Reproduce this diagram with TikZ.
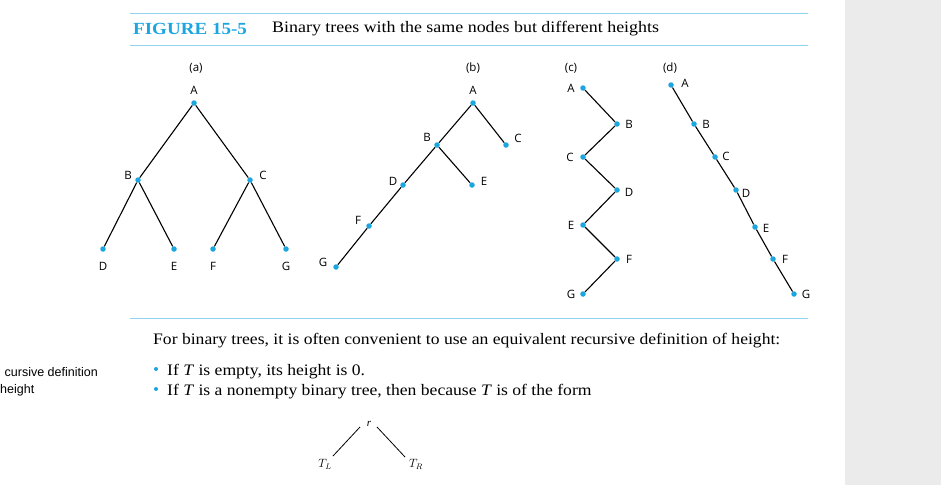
\documentclass[tikz,border=0pt]{standalone}
\usepackage{fontspec}
\setmainfont{Liberation Serif}
\newfontfamily\bodyf[FakeStretch=1.1]{Liberation Serif}
\newfontfamily\capf[FakeStretch=1.12]{Liberation Serif}
\newfontfamily\lab{Open Sans}
\newfontfamily\marg{Liberation Sans}
\definecolor{cyanb}{HTML}{1BA6E0}
\definecolor{rule}{HTML}{8FD3EE}
\definecolor{panel}{HTML}{EBEBEB}
\begin{document}
\begin{tikzpicture}[x=1pt,y=-1pt,
  dot/.style={circle,fill=cyanb,inner sep=0pt,minimum size=5.5pt},
  lbl/.style={font=\lab\fontsize{11.5}{13}\selectfont,inner sep=0pt},
  edge/.style={line width=1.1pt},
  body/.style={font=\bodyf\fontsize{16}{18}\selectfont,inner sep=0pt,anchor=west}]
\useasboundingbox (0,0) rectangle (941,485);
\fill[panel] (845,0) rectangle (941,485);
\draw[rule,line width=1pt] (130,13) -- (808,13);
\draw[rule,line width=1pt] (130,45) -- (808,45);
\draw[rule,line width=1pt] (130,318) -- (808,318);
\node[anchor=west,inner sep=0pt,text=cyanb,font=\capf\bfseries\fontsize{17}{19}\selectfont] (fig) at (133,29) {FIGURE 15-5};
\node[anchor=west,inner sep=0pt,font=\capf\fontsize{16}{18}\selectfont] (cap) at (272,29) {Binary trees with the same nodes but different heights};
% (a)
\node[lbl] (la) at (196,68) {(a)};
\foreach \n/\x/\y in {aA/194/103,aB/138/180,aC/250/180,aD/103/249,aE/174/249,aF/213/249,aG/286/249}
  \node[dot] (\n) at (\x,\y) {};
\draw[edge] (aA)--(aB) (aA)--(aC) (aB)--(aD) (aB)--(aE) (aC)--(aF) (aC)--(aG);
\node[lbl] at (194,90) {A}; \node[lbl] at (128,175) {B}; \node[lbl] at (263,175) {C};
\node[lbl] at (103,266) {D}; \node[lbl] at (174,266) {E}; \node[lbl] at (213,266) {F}; \node[lbl] at (286,266) {G};
% (b)
\node[lbl] (lb) at (473,68) {(b)};
\foreach \n/\x/\y in {bA/473/103,bB/437/145,bC/506/145,bD/403/185,bE/472/185,bF/369/226,bG/336/267}
  \node[dot] (\n) at (\x,\y) {};
\draw[edge] (bA)--(bB) (bA)--(bC) (bB)--(bD) (bB)--(bE) (bD)--(bF) (bF)--(bG);
\node[lbl] at (473,90) {A}; \node[lbl] at (427,137) {B}; \node[lbl] at (518,138) {C};
\node[lbl] at (393,181) {D}; \node[lbl] at (484,181) {E}; \node[lbl] at (358,220) {F}; \node[lbl] at (323,262) {G};
% (c)
\node[lbl] (lc) at (571,68) {(c)};
\foreach \n/\x/\y in {cA/583/88,cB/617/124,cC/583/157,cD/617/190,cE/583/225,cF/617/259,cG/583/294}
  \node[dot] (\n) at (\x,\y) {};
\draw[edge] (cA)--(cB)--(cC)--(cD)--(cE)--(cF)--(cG);
\node[lbl] at (571,88) {A}; \node[lbl] at (629,124) {B}; \node[lbl] at (570,157) {C};
\node[lbl] at (629,192) {D}; \node[lbl] at (571,225) {E}; \node[lbl] at (629,259) {F}; \node[lbl] at (571,294) {G};
% (d)
\node[lbl] (ld) at (670,68) {(d)};
\foreach \n/\x/\y in {dA/671/85,dB/694/124,dC/715/157,dD/736/190,dE/755/227,dF/773/259,dG/794/294}
  \node[dot] (\n) at (\x,\y) {};
\draw[edge] (dA)--(dB)--(dC)--(dD)--(dE)--(dF)--(dG);
\node[lbl] at (685,83) {A}; \node[lbl] at (706,124) {B}; \node[lbl] at (726,156) {C};
\node[lbl] at (746,193) {D}; \node[lbl] at (766,228) {E}; \node[lbl] at (785,259) {F}; \node[lbl] at (806,294) {G};
% text
\node[body] (t1) at (153,341) {For binary trees, it is often convenient to use an equivalent recursive definition of height:};
\node[dot,minimum size=4pt] (b1) at (156,369) {};
\node[dot,minimum size=4pt] (b2) at (156,389) {};
\node[body] (t2) at (167,372) {If \textit{T} is empty, its height is 0.};
\node[body] (t3) at (167,392) {If \textit{T} is a nonempty binary tree, then because \textit{T} is of the form};
\node[anchor=east,inner sep=0pt,font=\marg\fontsize{12.5}{14}\selectfont] (m1) at (98,372) {cursive definition};
\node[anchor=west,inner sep=0pt,font=\marg\fontsize{12.5}{14}\selectfont] (m2) at (0,390) {height};
% small tree
\node[inner sep=0pt,font=\itshape\fontsize{11}{13}\selectfont] (r) at (369,424) {r};
\node[inner sep=0pt,font=\fontsize{12}{14}\selectfont] (tl) at (325,464) {$T_L$};
\node[inner sep=0pt,font=\fontsize{12}{14}\selectfont] (tr) at (416,464) {$T_R$};
\coordinate (r1) at (360,427); \coordinate (r2) at (377,427);
\coordinate (l1) at (333,456); \coordinate (l2) at (405,457);
\draw[line width=0.8pt] (r1)--(l1) (r2)--(l2);
\end{tikzpicture}
\end{document}
